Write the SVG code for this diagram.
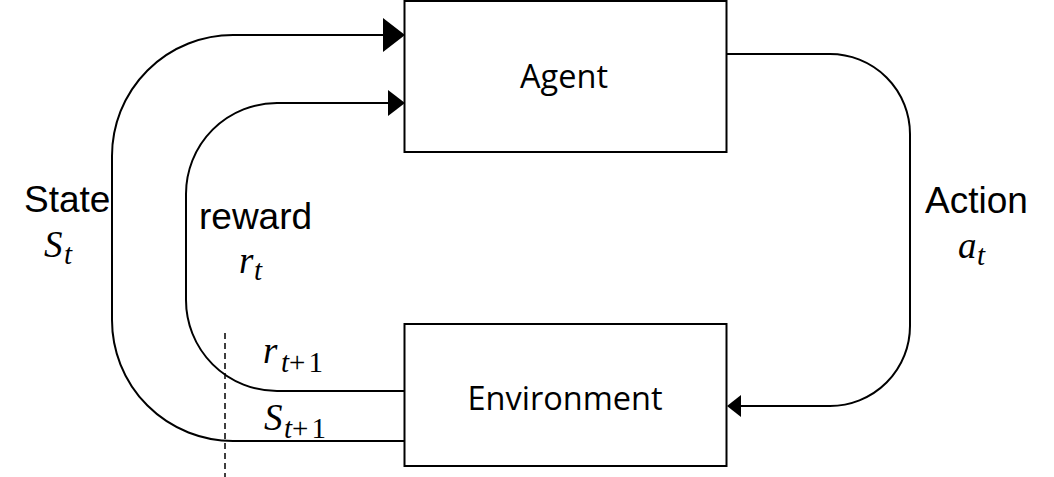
<svg xmlns="http://www.w3.org/2000/svg" width="1054" height="477" viewBox="0 0 1054 477">
<style>
.box{fill:#fff;stroke:#000;stroke-width:2}
.ln{fill:none;stroke:#000;stroke-width:2}
.head{fill:#000;stroke:none}
.lbl{font-family:"Open Sans",sans-serif;font-size:32.5px;fill:#000}
.side{font-family:"Liberation Sans",Arial,sans-serif;font-size:37px;fill:#000}
.m{font-family:"Liberation Serif",serif;font-style:italic;font-size:37px;fill:#000}
.ms{font-family:"Liberation Serif",serif;font-style:italic;font-size:29px;fill:#000}
.up{font-style:normal;letter-spacing:3px}
</style>
<rect width="1054" height="477" fill="#fff"/>
<g id="connectors">
<path class="ln" d="M 405 441 H 233 A 121 121 0 0 1 112 320 V 156 A 121 121 0 0 1 233 35 H 384"/>
<polygon class="head" points="405,35 383,18 383,52"/>
<path class="ln" d="M 405 391 H 277 A 91 91 0 0 1 186 300 V 194 A 91 91 0 0 1 277 103 H 389"/>
<polygon class="head" points="405,103 388,90 388,116"/>
<path class="ln" d="M 727 54 H 830 A 80 80 0 0 1 910 134 V 326 A 80 80 0 0 1 830 406 H 740"/>
<polygon class="head" points="727,406 741,395 741,417"/>
<line x1="225" y1="333" x2="225" y2="477" stroke="#000" stroke-width="1.5" stroke-dasharray="6,4"/>
</g>
<g id="agent">
<rect class="box" x="404.5" y="1" width="322" height="151"/>
<text class="lbl" x="564" y="88" text-anchor="middle">Agent</text>
</g>
<g id="environment">
<rect class="box" x="404.5" y="324" width="322" height="142"/>
<text class="lbl" x="565" y="410" text-anchor="middle">Environment</text>
</g>
<g id="labels">
<text class="side" x="24" y="212">State</text>
<text class="m" x="44" y="257">S</text><text class="ms" x="64" y="264">t</text>
<text class="side" x="199" y="229">reward</text>
<text class="m" x="239" y="273">r</text><text class="ms" x="254" y="280">t</text>
<text class="side" x="925" y="213">Action</text>
<text class="m" x="958" y="258">a</text><text class="ms" x="977" y="265">t</text>
<text class="m" x="263" y="363">r</text><text class="ms" x="281" y="372">t<tspan class="up">+1</tspan></text>
<text class="m" x="264" y="430">S</text><text class="ms" x="284" y="438">t<tspan class="up">+1</tspan></text>
</g>
</svg>
